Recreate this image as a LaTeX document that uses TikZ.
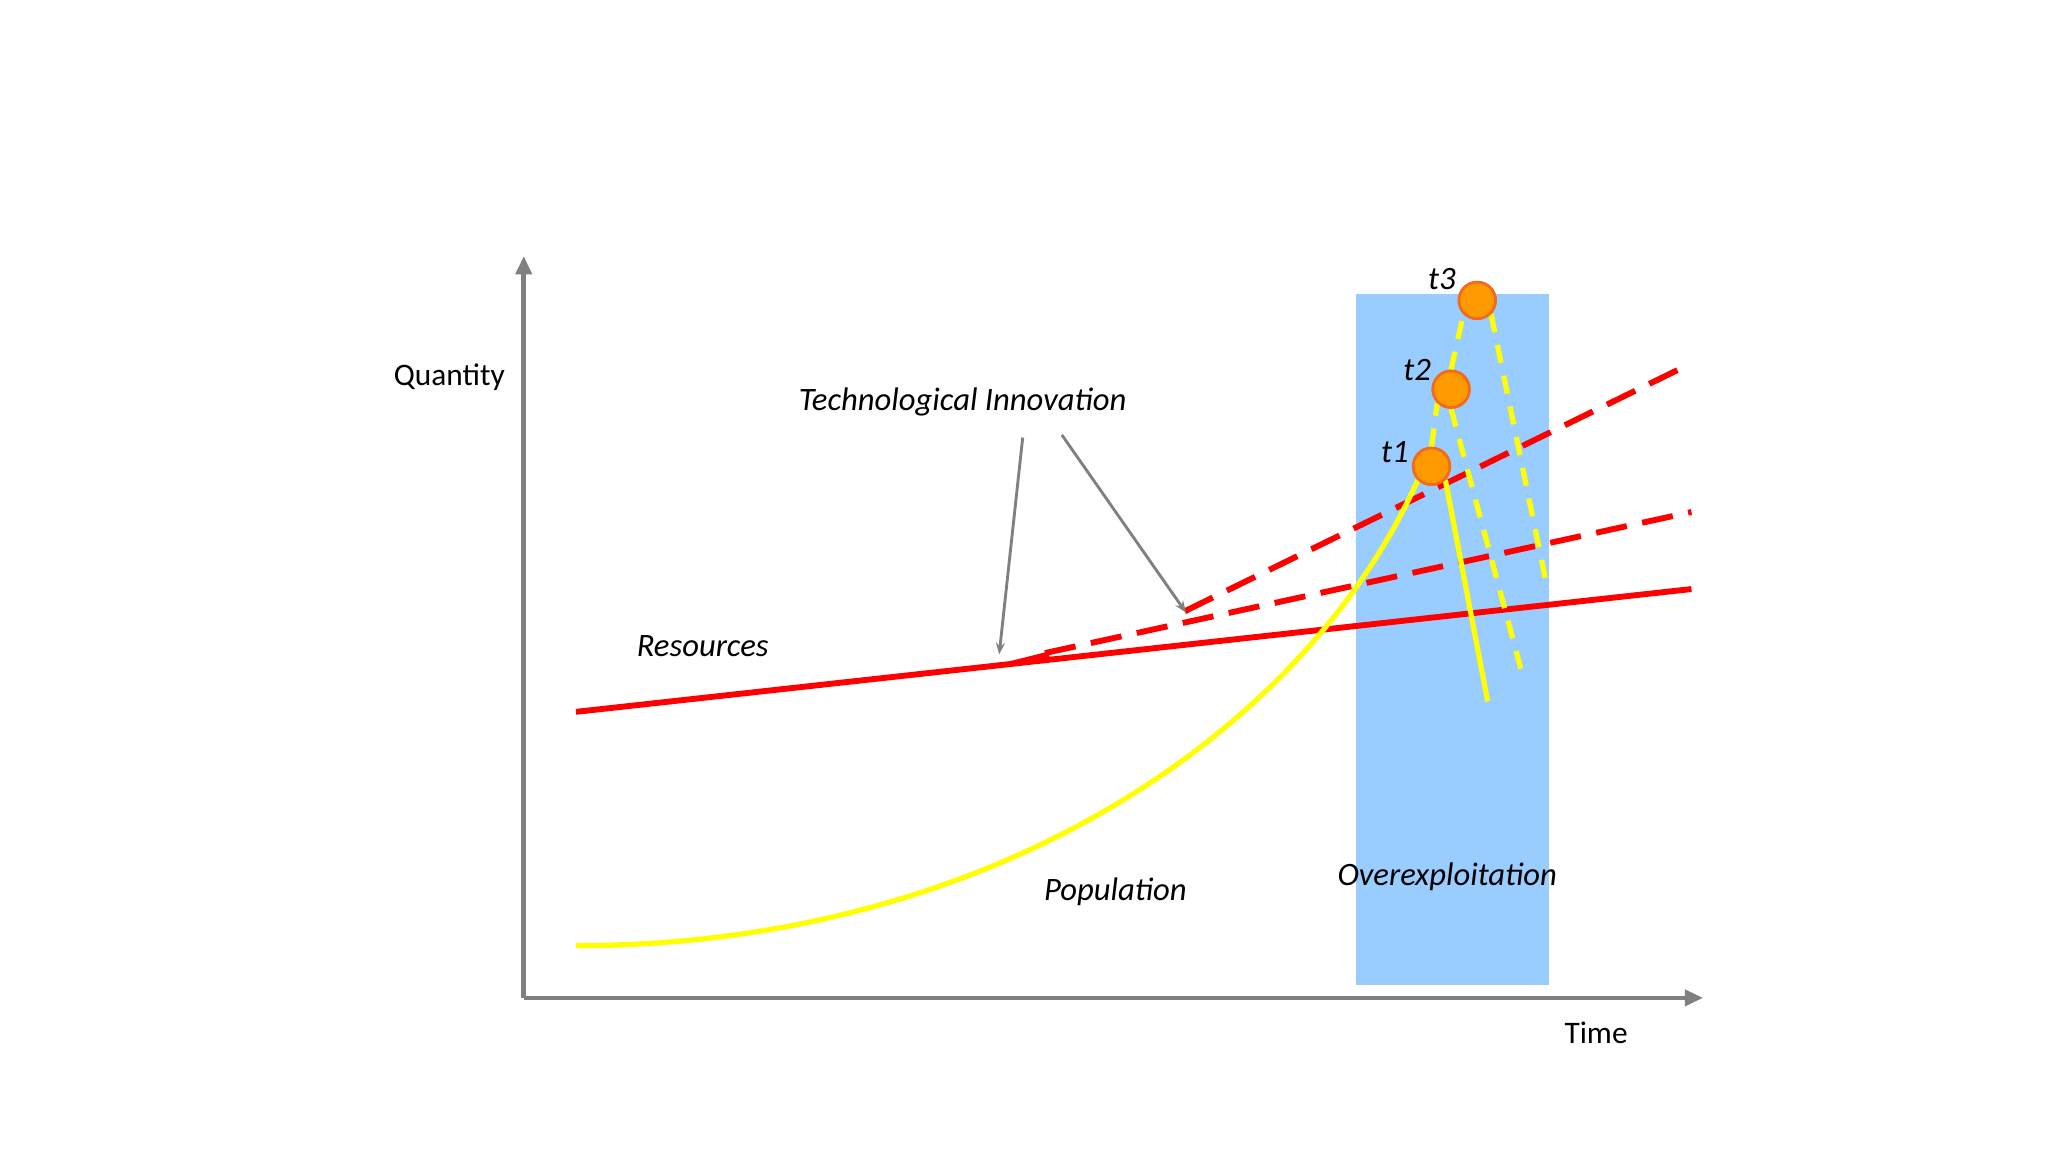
\documentclass[tikz,border=0pt]{standalone}
\usepackage{fontspec}
\setmainfont{Carlito}
\usetikzlibrary{arrows.meta}
\definecolor{blu}{HTML}{99CCFF}
\definecolor{rd}{HTML}{FF0000}
\definecolor{yl}{HTML}{FFFF00}
\definecolor{org}{HTML}{FF9900}
\definecolor{orgb}{HTML}{F26B1D}
\begin{document}
\begin{tikzpicture}[x=1pt,y=-1pt,
  axis/.style={draw=gray,line width=3.5pt,-{Triangle[length=14pt,width=12pt]}},
  res/.style={draw=rd,line width=4.5pt},
  resd/.style={res,dash pattern=on 24pt off 12pt},
  pop/.style={draw=yl,line width=4pt},
  popd/.style={pop,dash pattern=on 14pt off 10pt},
  dot/.style={circle,fill=org,draw=orgb,line width=2pt,minimum size=28pt,inner sep=0pt},
  lab/.style={font=\fontsize{25}{28}\selectfont\itshape,inner sep=0pt},
  plab/.style={font=\fontsize{24}{28}\selectfont,inner sep=0pt},
  ptr/.style={draw=gray,line width=2.2pt,-{Stealth[length=9pt,width=7pt]}}]
\useasboundingbox (0,0) rectangle (1568,882);
\fill[blu] (1038,225) rectangle (1186,754);
\coordinate (o) at (401,764);
\coordinate (ytop) at (401,196);
\coordinate (xend) at (1304,764);
\draw[axis] (o) -- (ytop);
\draw[axis] (o) -- (xend);
% resources
\coordinate (r0) at (441,545);
\coordinate (r1) at (1295,451);
\coordinate (b) at (765,509);
\coordinate (d1) at (1285,283);
\coordinate (d2) at (1295,392);
\draw[res] (r0) -- (r1);
\fill[rd] (762,509) -- (802,499) -- (804,504) -- cycle;
\draw[resd] (800,500) -- (d2);
\draw[resd] (907,468) -- (d1);
% population
\node[dot] (t1) at (1096,357) {};
\node[dot] (t2) at (1111,298) {};
\node[dot] (t3) at (1131,230) {};
\coordinate (p0) at (441,724);
\draw[pop] (p0) .. controls (760,724) and (1000,560) .. (t1.south west);
\coordinate (e1) at (1139,537);
\coordinate (e2) at (1166,518);
\coordinate (e3) at (1185,452);
\draw[pop] (t1.south east) -- (e1);
\draw[popd] (t2.south) -- (e2);
\draw[popd] (t3.south east) -- (e3);
\draw[popd] (t1.north) -- (t2.south west);
\draw[popd] (t2.north) -- (t3.south west);
\node[dot] at (t1) {};
\node[dot] at (t2) {};
\node[dot] at (t3) {};
% labels
\node[plab] (q) at (344,289) {Quantity};
\node[plab] (tm) at (1222,791) {Time};
\node[lab] (ti) at (737,308) {Technological Innovation};
\node[lab] (rs) at (538,495) {Resources};
\node[lab] (pp) at (854,683) {Population};
\node[lab] (ov) at (1108,671) {Overexploitation};
\node[lab] at (1068,346) {t1};
\node[lab] at (1085,283) {t2};
\node[lab] at (1104,214) {t3};
\coordinate (a1) at (783,335);
\coordinate (a2) at (813,333);
\draw[ptr] (a1) -- (765,501);
\draw[ptr] (a2) -- (908,469);
\end{tikzpicture}
\end{document}
